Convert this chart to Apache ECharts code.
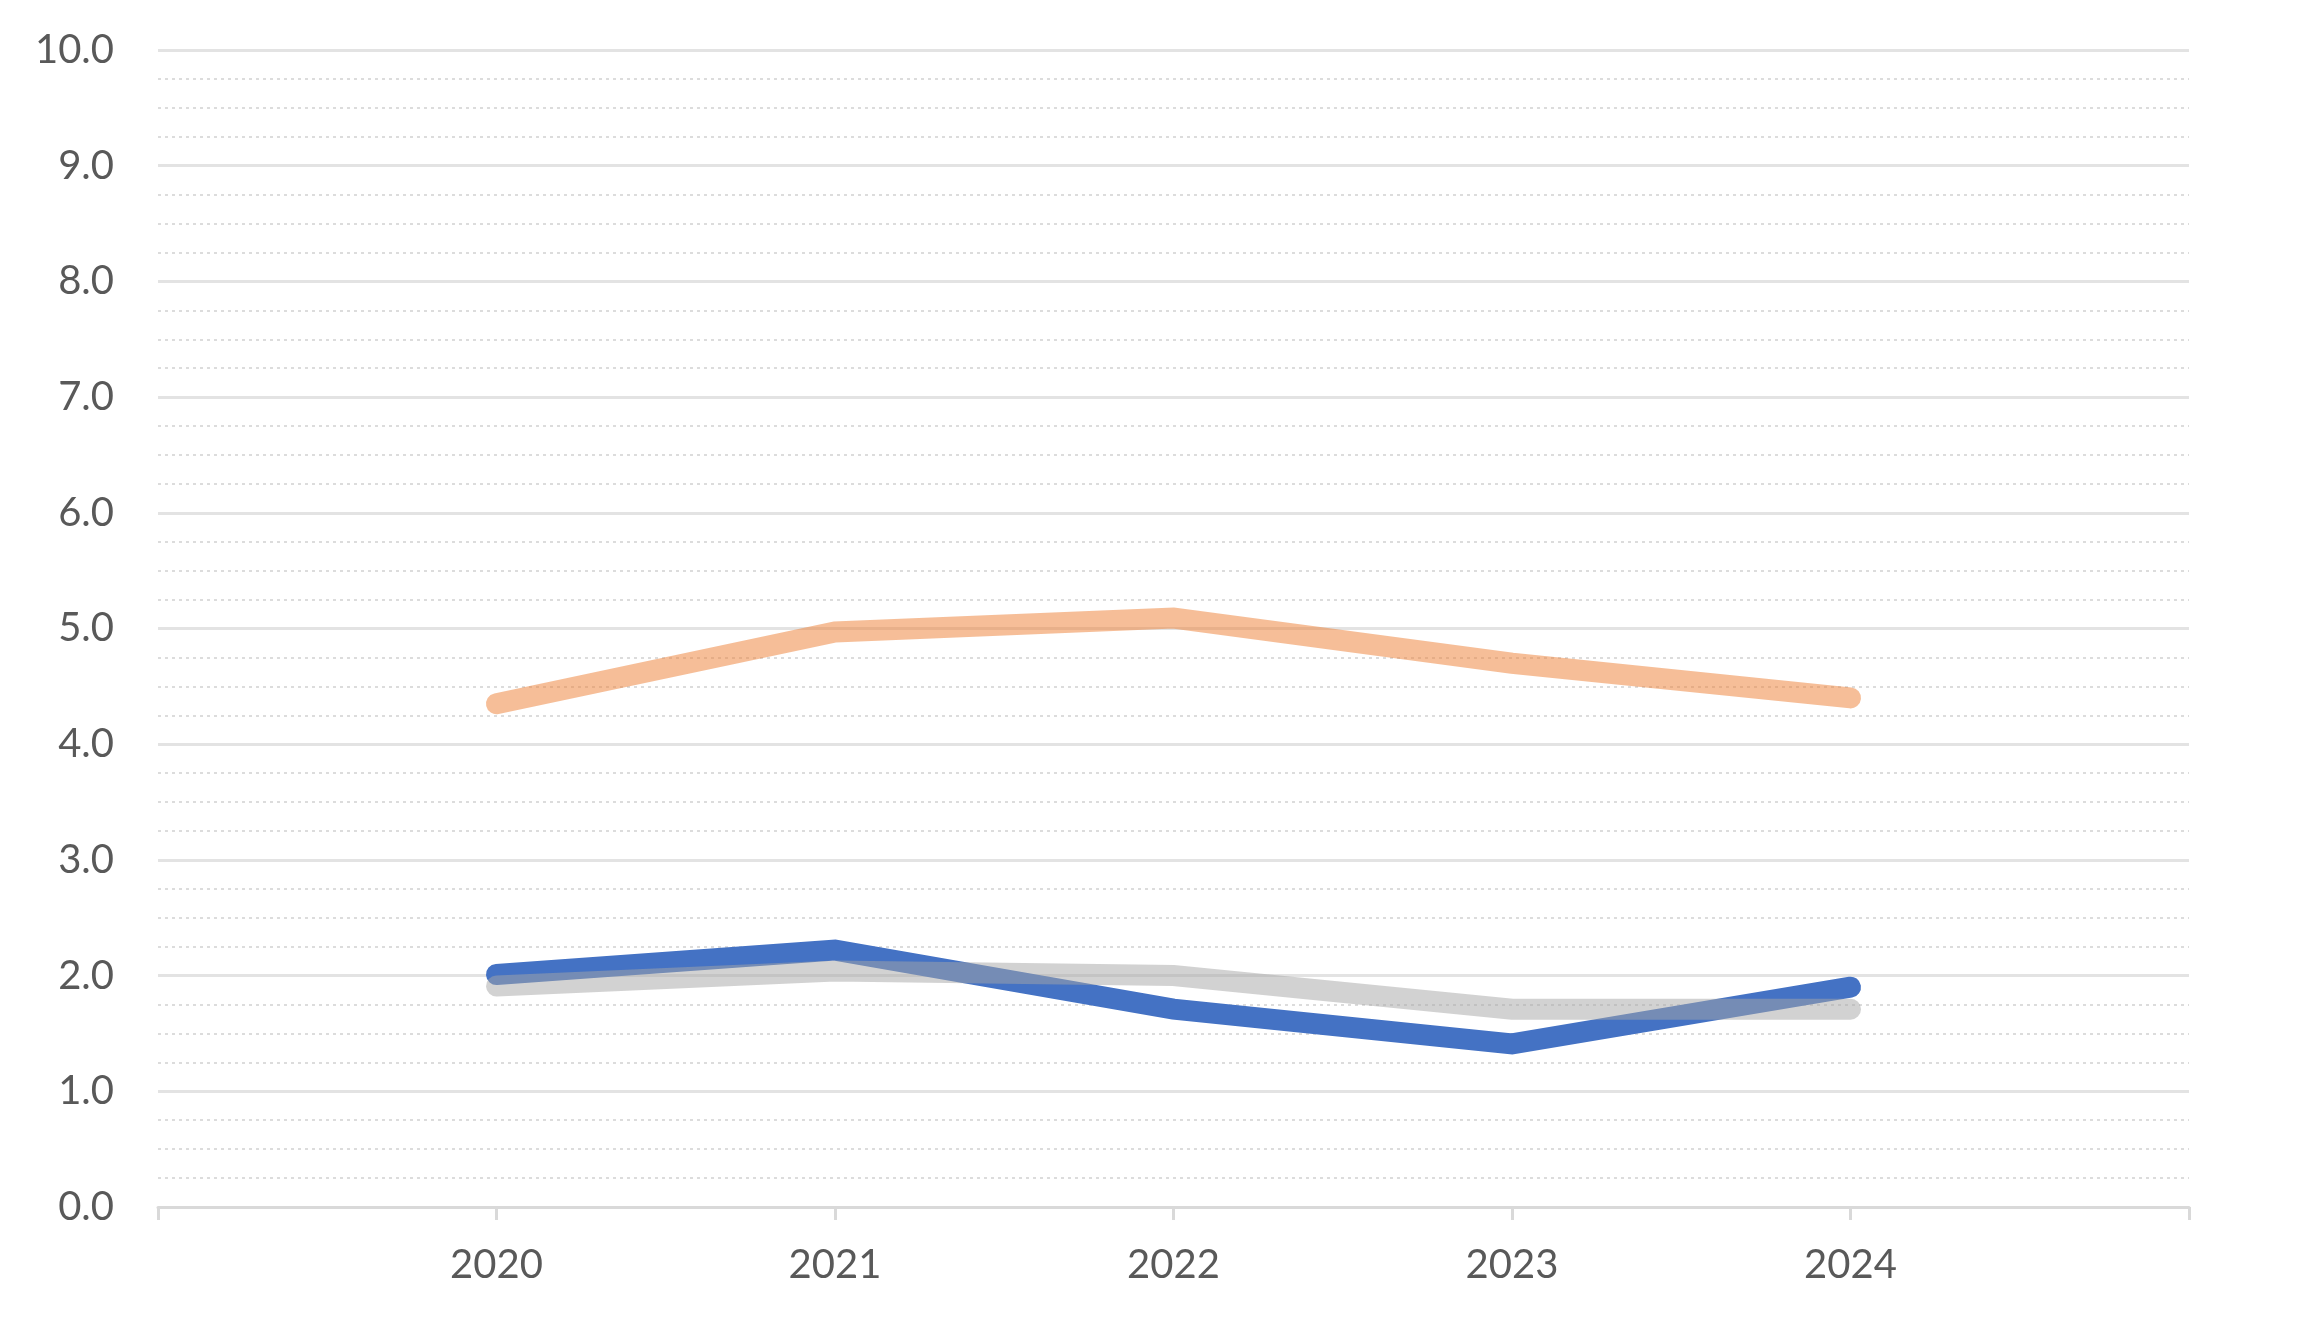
<!DOCTYPE html>
<html>
<head>
<meta charset="utf-8">
<script src="https://cdn.jsdelivr.net/npm/echarts@6/dist/echarts.min.js"></script>
<style>
html,body{margin:0;padding:0;background:#fff;}
#chart{width:2319px;height:1329px;}
</style>
</head>
<body>
<div id="chart"></div>
<script>
const categories = ['', '2020', '2021', '2022', '2023', '2024', ''];
const blueValues = [null, 2.01, 2.22, 1.71, 1.41, 1.90, null];
const orangeValues = [null, 4.35, 4.97, 5.09, 4.70, 4.40, null];
const grayValues = [null, 1.91, 2.04, 2.00, 1.71, 1.71, null];
const yTicks = [0, 1, 2, 3, 4, 5, 6, 7, 8, 9, 10];

const chart = echarts.init(document.getElementById('chart'), null, {renderer: 'canvas'});
const fontFamily = 'Lato, "Open Sans", sans-serif';
const lineBase = {type: 'line', showSymbol: false, symbol: 'none', silent: true, connectNulls: false};
chart.setOption({
  animation: false,
  backgroundColor: '#ffffff',
  grid: {left: 158, right: 130, top: 50, bottom: 122, containLabel: false},
  xAxis: {
    type: 'category',
    data: categories,
    boundaryGap: false,
    axisLine: {show: true, lineStyle: {color: '#d9d9d9', width: 3}},
    axisTick: {show: true, interval: 0, length: 13, lineStyle: {color: '#d9d9d9', width: 3}},
    axisLabel: {interval: 0, color: '#595959', fontSize: 40, fontFamily: fontFamily, margin: 38},
    splitLine: {show: false}
  },
  yAxis: {
    type: 'value',
    min: yTicks[0],
    max: yTicks[yTicks.length - 1],
    interval: 1,
    axisLine: {show: false},
    axisTick: {show: false},
    axisLabel: {color: '#595959', fontSize: 40, fontFamily: fontFamily, margin: 44,
      formatter: v => v.toFixed(1)},
    splitLine: {show: true, lineStyle: {color: '#e3e3e3', width: 3}},
    minorTick: {show: false, splitNumber: 4},
    minorSplitLine: {show: true, lineStyle: {color: '#dcdcdc', width: 2, type: [3, 4]}}
  },
  series: [
    Object.assign({}, lineBase, {name: 'Blue', data: blueValues, z: 3,
      lineStyle: {color: '#4472C4', width: 21, cap: 'round', join: 'miter'}}),
    Object.assign({}, lineBase, {name: 'Orange', data: orangeValues, z: 4,
      lineStyle: {color: '#ED7D31', opacity: 0.5, width: 21, cap: 'round', join: 'miter'}}),
    Object.assign({}, lineBase, {name: 'Gray', data: grayValues, z: 5,
      lineStyle: {color: '#A5A5A5', opacity: 0.5, width: 21, cap: 'round', join: 'miter'}})
  ]
});
</script>
</body>
</html>
